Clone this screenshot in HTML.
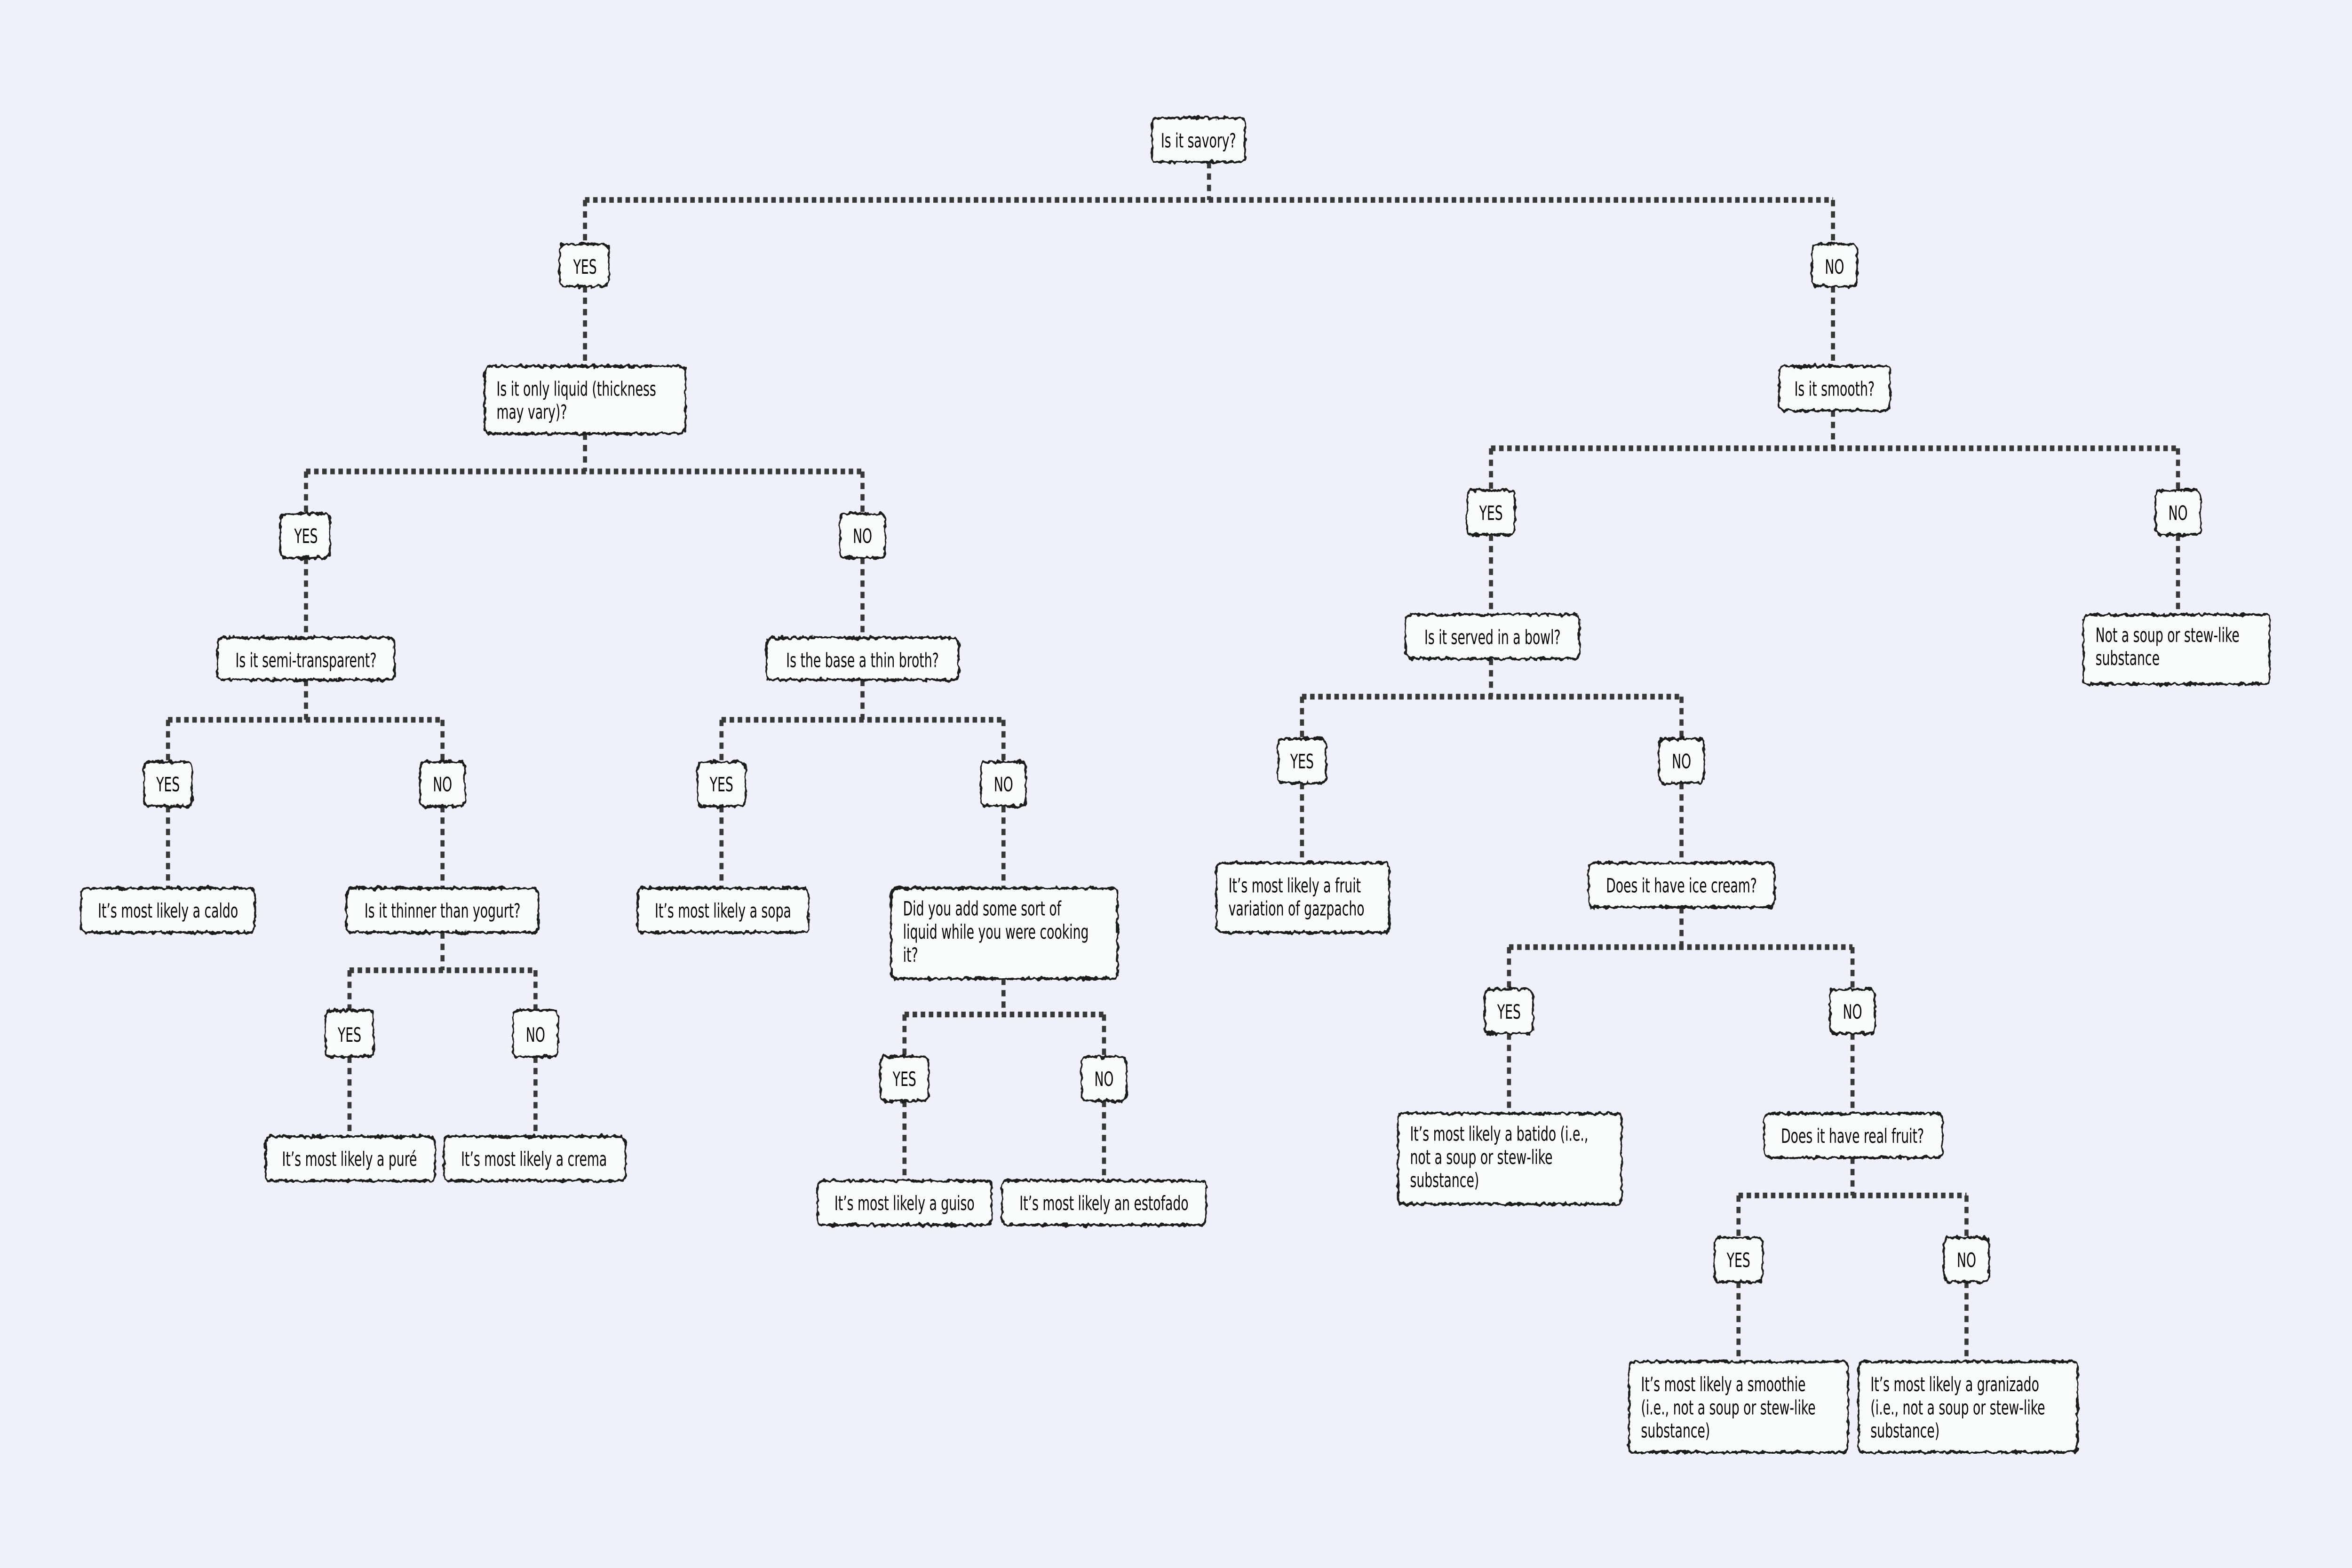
<!DOCTYPE html>
<html><head><meta charset="utf-8"><style>
html,body{margin:0;padding:0;background:#eef1f9;overflow:hidden;width:100vw;height:100vh}
svg{display:block;width:100vw;height:100vh}
text{font-family:"DejaVu Sans Condensed","Liberation Sans",sans-serif;font-size:9.3px;fill:#000}
</style></head><body>
<svg viewBox="0 0 1568 745" preserveAspectRatio="none" xmlns="http://www.w3.org/2000/svg">
<defs>
<filter id="c" x="-5%" y="-20%" width="110%" height="140%">
<feTurbulence type="fractalNoise" baseFrequency="0.35" numOctaves="2" seed="3" result="t"/>
<feDisplacementMap in="SourceGraphic" in2="t" scale="2.6" xChannelSelector="R" yChannelSelector="G"/>
</filter>
</defs>
<rect width="1568" height="745" fill="#eef1f9"/>
<g stroke="#383838" stroke-width="2.7" fill="none" stroke-dasharray="3 2.4">
<path d="M806 77V95M390 95H1222M390 95V116M1222 95V116"/>
<path d="M390 136V174M390 206V224M204 224H575M204 224V244M575 224V244M204 265V303M575 265V303"/>
<path d="M204 323V342M112 342H295M112 342V362M295 342V362M575 323V342M481 342H669M481 342V362M669 342V362"/>
<path d="M112 383V422M295 383V422M481 383V422M669 383V422"/>
<path d="M295 443V461M233 461H357M233 461V480M357 461V480M233 502V540M357 502V540"/>
<path d="M669 465V482M603 482H736M603 482V502M736 482V502M603 523V561M736 523V561"/>
<path d="M1222 136V174M1222 195V213M994 213H1452M994 213V233M1452 213V233M994 254V292M1452 254V292"/>
<path d="M994 313V331M868 331H1121M868 331V351M1121 331V351M868 372V410M1121 372V410"/>
<path d="M1121 431V450M1006 450H1235M1006 450V470M1235 450V470M1006 491V529M1235 491V529"/>
<path d="M1235 550V568M1159 568H1311M1159 568V588M1311 568V588M1159 609V647M1311 609V647"/>
</g>
<g fill="#f8fcfd" stroke="#1c1c1c" stroke-width="1.2" filter="url(#c)">
<rect x="768" y="56" width="62" height="21" rx="3"/>
<rect x="373" y="116" width="33" height="20" rx="3"/>
<rect x="1208" y="116" width="30" height="20" rx="3"/>
<rect x="323" y="174" width="134" height="32" rx="3"/>
<rect x="187" y="244" width="33" height="21" rx="3"/>
<rect x="560" y="244" width="30" height="21" rx="3"/>
<rect x="145" y="303" width="118" height="20" rx="3"/>
<rect x="511" y="303" width="128" height="20" rx="3"/>
<rect x="96" y="362" width="32" height="21" rx="3"/>
<rect x="280" y="362" width="30" height="21" rx="3"/>
<rect x="465" y="362" width="32" height="21" rx="3"/>
<rect x="654" y="362" width="30" height="21" rx="3"/>
<rect x="54" y="422" width="116" height="21" rx="3"/>
<rect x="231" y="422" width="128" height="21" rx="3"/>
<rect x="425" y="422" width="114" height="21" rx="3"/>
<rect x="594" y="422" width="151" height="43" rx="3"/>
<rect x="217" y="480" width="32" height="22" rx="3"/>
<rect x="342" y="480" width="30" height="22" rx="3"/>
<rect x="177" y="540" width="113" height="21" rx="3"/>
<rect x="296" y="540" width="121" height="21" rx="3"/>
<rect x="587" y="502" width="32" height="21" rx="3"/>
<rect x="721" y="502" width="30" height="21" rx="3"/>
<rect x="545" y="561" width="116" height="21" rx="3"/>
<rect x="668" y="561" width="136" height="21" rx="3"/>
<rect x="1186" y="174" width="74" height="21" rx="3"/>
<rect x="978" y="233" width="32" height="21" rx="3"/>
<rect x="1437" y="233" width="30" height="21" rx="3"/>
<rect x="937" y="292" width="116" height="21" rx="3"/>
<rect x="1389" y="292" width="124" height="33" rx="3"/>
<rect x="852" y="351" width="32" height="21" rx="3"/>
<rect x="1106" y="351" width="30" height="21" rx="3"/>
<rect x="811" y="410" width="115" height="33" rx="3"/>
<rect x="1059" y="410" width="124" height="21" rx="3"/>
<rect x="990" y="470" width="32" height="21" rx="3"/>
<rect x="1220" y="470" width="30" height="21" rx="3"/>
<rect x="932" y="529" width="149" height="43" rx="3"/>
<rect x="1176" y="529" width="119" height="21" rx="3"/>
<rect x="1143" y="588" width="32" height="21" rx="3"/>
<rect x="1296" y="588" width="30" height="21" rx="3"/>
<rect x="1086" y="647" width="146" height="43" rx="3"/>
<rect x="1239" y="647" width="146" height="43" rx="3"/>
</g>
<g text-anchor="middle">
<text x="799" y="70">Is it savory?</text>
<text x="390" y="130">YES</text>
<text x="1223" y="130">NO</text>
<text x="204" y="258">YES</text>
<text x="575" y="258">NO</text>
<text x="204" y="317">Is it semi-transparent?</text>
<text x="575" y="317">Is the base a thin broth?</text>
<text x="112" y="376">YES</text>
<text x="295" y="376">NO</text>
<text x="481" y="376">YES</text>
<text x="669" y="376">NO</text>
<text x="112" y="436">It’s most likely a caldo</text>
<text x="295" y="436">Is it thinner than yogurt?</text>
<text x="482" y="436">It’s most likely a sopa</text>
<text x="233" y="495">YES</text>
<text x="357" y="495">NO</text>
<text x="233" y="554">It’s most likely a puré</text>
<text x="356" y="554">It’s most likely a crema</text>
<text x="603" y="516">YES</text>
<text x="736" y="516">NO</text>
<text x="603" y="575">It’s most likely a guiso</text>
<text x="736" y="575">It’s most likely an estofado</text>
<text x="1223" y="188">Is it smooth?</text>
<text x="994" y="247">YES</text>
<text x="1452" y="247">NO</text>
<text x="995" y="306">Is it served in a bowl?</text>
<text x="868" y="365">YES</text>
<text x="1121" y="365">NO</text>
<text x="1121" y="424">Does it have ice cream?</text>
<text x="1006" y="484">YES</text>
<text x="1235" y="484">NO</text>
<text x="1235" y="543">Does it have real fruit?</text>
<text x="1159" y="602">YES</text>
<text x="1311" y="602">NO</text>
</g>
<g>
<text x="331" y="188">Is it only liquid (thickness</text>
<text x="331" y="199">may vary)?</text>
<text x="602" y="435">Did you add some sort of</text>
<text x="602" y="446">liquid while you were cooking</text>
<text x="602" y="457">it?</text>
<text x="1397" y="305">Not a soup or stew-like</text>
<text x="1397" y="316">substance</text>
<text x="819" y="424">It’s most likely a fruit</text>
<text x="819" y="435">variation of gazpacho</text>
<text x="940" y="542">It’s most likely a batido (i.e.,</text>
<text x="940" y="553">not a soup or stew-like</text>
<text x="940" y="564">substance)</text>
<text x="1094" y="661">It’s most likely a smoothie</text>
<text x="1094" y="672">(i.e., not a soup or stew-like</text>
<text x="1094" y="683">substance)</text>
<text x="1247" y="661">It’s most likely a granizado</text>
<text x="1247" y="672">(i.e., not a soup or stew-like</text>
<text x="1247" y="683">substance)</text>
</g>
</svg>
</body></html>
